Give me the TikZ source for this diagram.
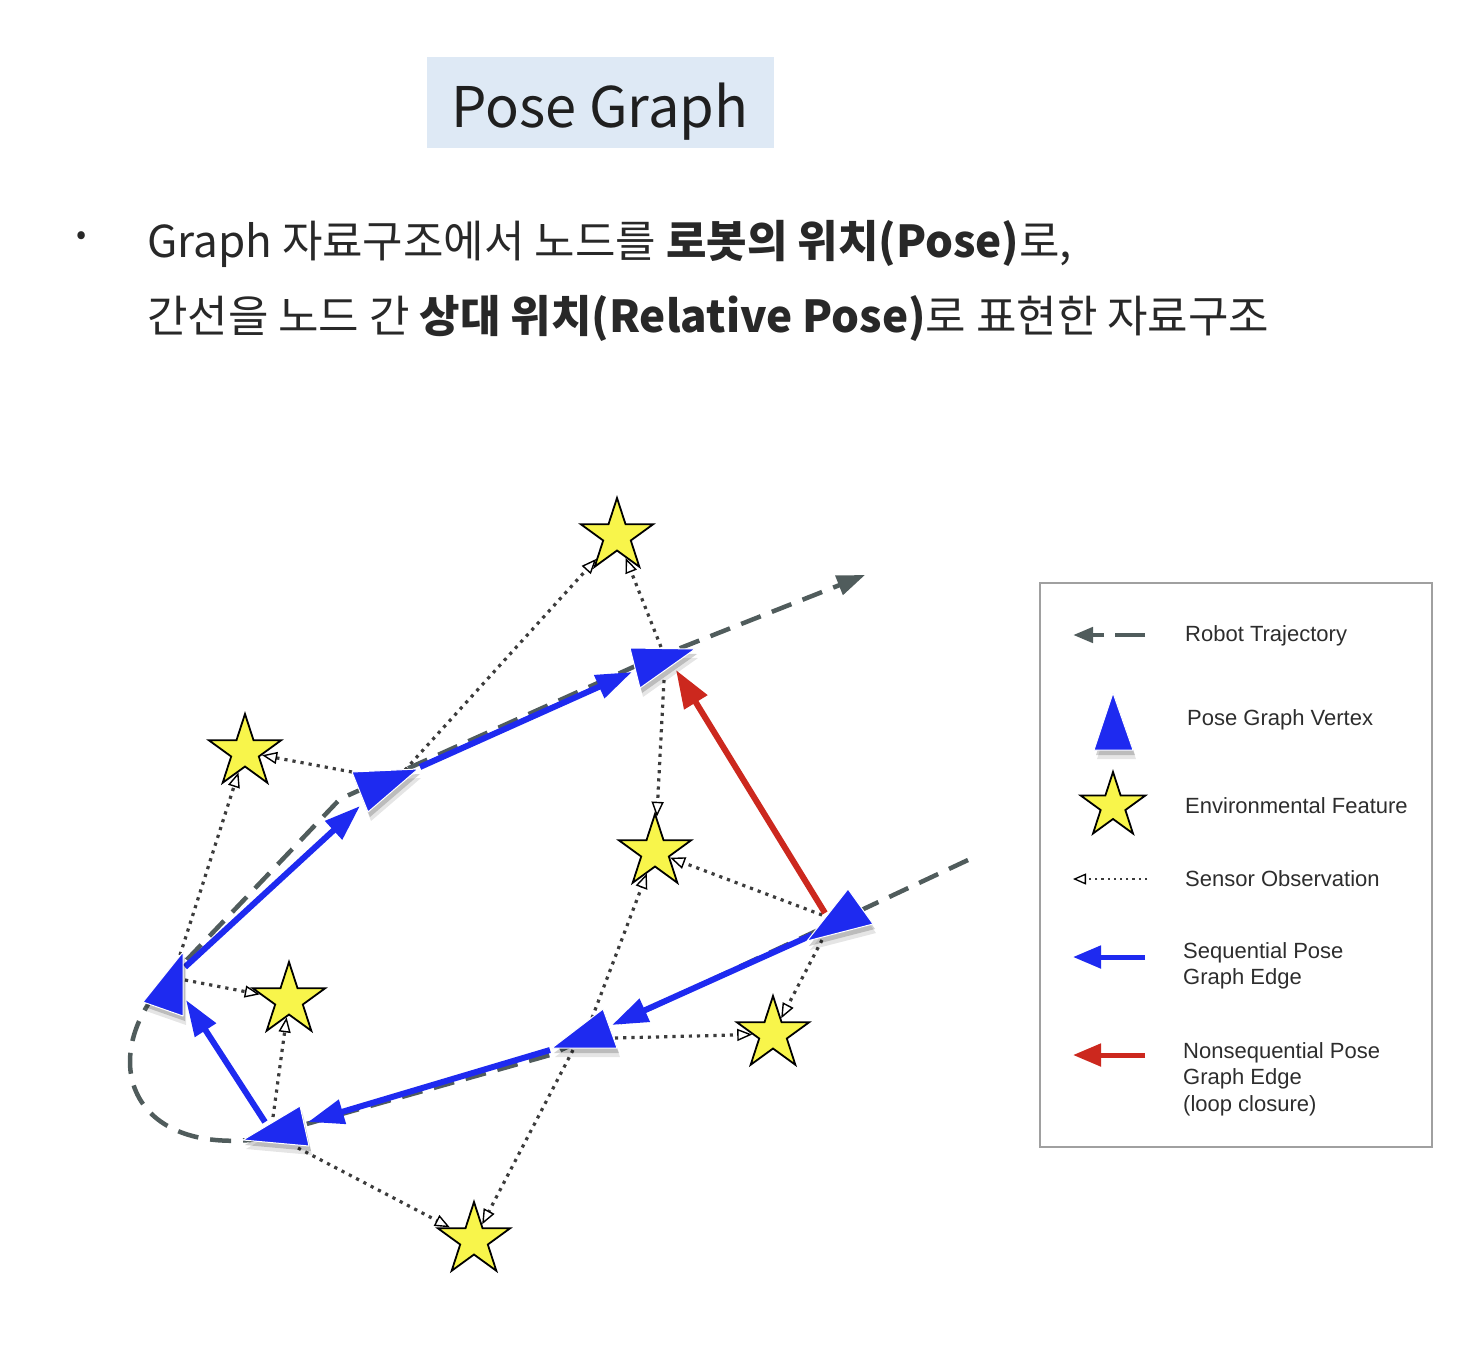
\documentclass[tikz,border=0pt]{standalone}
\usepackage{fontspec}
\setmainfont{Noto Sans CJK KR}
\newfontfamily\legfont{Liberation Sans}
\usetikzlibrary{shapes.geometric,arrows.meta}
\pgfdeclarelayer{bg}
\pgfsetlayers{bg,main}
\definecolor{vblue}{RGB}{30,42,240}
\definecolor{lcred}{RGB}{204,40,30}
\definecolor{trajgray}{RGB}{80,92,92}
\definecolor{dotgray}{RGB}{60,60,60}
\definecolor{staryellow}{RGB}{248,245,75}
\definecolor{titlebg}{RGB}{222,233,245}
\definecolor{legborder}{RGB}{160,160,160}
\definecolor{legtextcol}{RGB}{45,45,45}
\definecolor{bodytextcol}{RGB}{40,40,40}
\newcommand\posevertex[1]{%
  \fill[black,opacity=.10] ([shift={(3,9)}]#1a) -- ([shift={(3,9)}]#1b) -- ([shift={(3,9)}]#1c) -- cycle;
  \fill[black,opacity=.18] ([shift={(2,5)}]#1a) -- ([shift={(2,5)}]#1b) -- ([shift={(2,5)}]#1c) -- cycle;
  \filldraw[vertexstyle] (#1a) -- (#1b) -- (#1c) -- cycle;}
\begin{document}
\begin{tikzpicture}[x=1pt,y=-1pt,
  titlebox/.style={fill=titlebg, minimum width=347pt, minimum height=91pt, inner sep=0pt,
    font=\fontsize{56}{68}\selectfont, text=black!88},
  bodytext/.style={font=\fontsize{44}{52}\selectfont, text=bodytextcol, inner sep=0pt, anchor=base west},
  traj/.style={draw=trajgray, line width=4.5pt, dash pattern=on 21pt off 12pt},
  obs/.style={draw=dotgray, line width=3.2pt, dash pattern=on 3.2pt off 5pt,
    -{Triangle[length=15pt,width=12pt,fill=white,color=black,line width=1.4pt]}},
  seq/.style={draw=vblue, line width=6pt, -{Triangle[length=36pt,width=24pt]}},
  nonseq/.style={draw=lcred, line width=6pt, -{Triangle[length=38pt,width=26pt]}},
  feature/.style={star, star points=5, star point ratio=2.618, minimum size=76pt, inner sep=0pt,
    draw=black, line width=1.8pt, fill=staryellow},
  vertexstyle/.style={fill=vblue, draw=white, line width=1pt, line join=round},
  legtext/.style={font=\legfont\fontsize{22}{26.5}\selectfont, text=legtextcol, anchor=west,
    inner sep=0pt, align=left}
]
\useasboundingbox (0,0) rectangle (1474,1352);

% ---------- heading ----------
\fill[titlebg] (427,57) rectangle (774,148);
\node[font=\fontsize{56}{68}\selectfont, text=black!88, inner sep=0pt, anchor=base] (title) at (600,127) {Pose Graph};
\node[font=\fontsize{30}{30}\selectfont, text=bodytextcol, inner sep=0pt] (bullet) at (82,238) {•};
\node[bodytext] (line1) at (147,257) {Graph 자료구조에서 노드를 \textbf{로봇의 위치(Pose)}로,};
\node[bodytext] (line2) at (147,332) {간선을 노드 간 \textbf{상대 위치(Relative Pose)}로 표현한 자료구조};

% ---------- vertices (triangle corners) ----------
\coordinate (v1a) at (630,648); \coordinate (v1b) at (695,649); \coordinate (v1c) at (640,688);
\coordinate (v2a) at (352,772); \coordinate (v2b) at (418,769); \coordinate (v2c) at (368,812);
\coordinate (v3a) at (143,1002); \coordinate (v3b) at (183,952); \coordinate (v3c) at (183,1016);
\coordinate (v4a) at (243,1140); \coordinate (v4b) at (300,1106); \coordinate (v4c) at (309,1146);
\coordinate (v5a) at (807,941); \coordinate (v5b) at (848,889); \coordinate (v5c) at (873,924);
\coordinate (v6a) at (552,1048); \coordinate (v6b) at (603,1009); \coordinate (v6c) at (617,1048);
\coordinate (lgva) at (1113,693); \coordinate (lgvb) at (1133,750); \coordinate (lgvc) at (1094,750);

% connector ends at the vertices
\coordinate (b1s) at (812,935); \coordinate (b1e) at (612,1025);
\coordinate (b2s) at (550,1050); \coordinate (b2e) at (308,1122);
\coordinate (b3s) at (265,1122); \coordinate (b3e) at (186,1000);
\coordinate (b4s) at (185,967); \coordinate (b4e) at (360,806);
\coordinate (b5s) at (420,767); \coordinate (b5e) at (632,672);
\coordinate (r1s) at (825,913); \coordinate (r1e) at (676,670);

\coordinate (v2o1) at (405,770);
\coordinate (v1o2) at (661,647);
\coordinate (v1o3) at (664,680);
\coordinate (v5o4) at (822,915);
\coordinate (v6o5) at (592,1018);
\coordinate (v6o6) at (573,1050);
\coordinate (v4o7) at (298,1148);
\coordinate (v4o8) at (273,1117);
\coordinate (v3o9) at (185,980);
\coordinate (v3o10) at (180,955);
\coordinate (v2o11) at (352,772);
\coordinate (v5o12) at (822,940);
\coordinate (v6o13) at (615,1038);

% trajectory points
\coordinate (t0) at (968,860);
\coordinate (t1) at (855,913);
\coordinate (t3) at (550,1055);
\coordinate (t4) at (250,1140);
\coordinate (t5) at (160,988);
\coordinate (t6) at (340,799);
\coordinate (t7) at (640,664);
\coordinate (tend) at (865,575);

% ---------- features ----------
\node[feature] (s1) at (617,536) {};
\node[feature] (s2) at (245,752) {};
\node[feature] (s3) at (655,852) {};
\node[feature] (s4) at (289,1000) {};
\node[feature] (s5) at (773,1034) {};
\node[feature] (s6) at (474,1240) {};

% ---------- connectors ----------
\begin{pgfonlayer}{bg}
\draw[traj, -{Triangle[length=28pt,width=20pt]}] (t0) -- (t1) -- (t3) -- (t4)
   .. controls (130,1150) and (100,1060) .. (t5) -- (t6) -- (t7) -- (tend);
\draw[obs] (v2o1) -- (s1);
\draw[obs] (v1o2) -- (s1);
\draw[obs] (v1o3) -- (s3);
\draw[obs] (v5o4) -- (s3);
\draw[obs] (v6o5) -- (s3);
\draw[obs] (v6o6) -- (s6);
\draw[obs] (v4o7) -- (s6);
\draw[obs] (v4o8) -- (s4);
\draw[obs] (v3o9) -- (s4);
\draw[obs] (v3o10) -- (s2);
\draw[obs] (v2o11) -- (s2);
\draw[obs] (v5o12) -- (s5);
\draw[obs] (v6o13) -- (s5);
\draw[seq] (b1s) -- (b1e);
\draw[seq] (b2s) -- (b2e);
\draw[seq] (b3s) -- (b3e);
\draw[seq] (b4s) -- (b4e);
\draw[seq] (b5s) -- (b5e);
\draw[nonseq] (r1s) -- (r1e);
\end{pgfonlayer}

% ---------- pose vertices ----------
\posevertex{v1}
\posevertex{v2}
\posevertex{v3}
\posevertex{v4}
\posevertex{v5}
\posevertex{v6}

% ---------- legend ----------
\draw[legborder, line width=1.5pt] (1040,583) rectangle (1432,1147);
\coordinate (lg1a) at (1073,635); \coordinate (lg1b) at (1145,635);
\coordinate (lg4a) at (1073,879); \coordinate (lg4b) at (1147,879);
\coordinate (lg5a) at (1073,957); \coordinate (lg5b) at (1145,957);
\coordinate (lg6a) at (1073,1055); \coordinate (lg6b) at (1145,1055);
\draw[traj, dash pattern=on 30pt off 11pt, -{Triangle[length=20pt,width=15pt]}] (lg1b) -- (lg1a);
\posevertex{lgv}
\node[feature, minimum size=68pt] (lgstar) at (1113,806) {};
\draw[obs, line width=2.2pt, dash pattern=on 2.2pt off 4pt,
  -{Triangle[length=13pt,width=11pt,fill=white,color=black,line width=1.3pt]}] (lg4b) -- (lg4a);
\draw[seq, line width=5pt, -{Triangle[length=28pt,width=22pt]}] (lg5b) -- (lg5a);
\draw[nonseq, line width=5pt, -{Triangle[length=28pt,width=22pt]}] (lg6b) -- (lg6a);

\node[legtext] (lt1) at (1185,636) {Robot Trajectory};
\node[legtext] (lt2) at (1187,720) {Pose Graph Vertex};
\node[legtext] (lt3) at (1185,806) {Environmental Feature};
\node[legtext] (lt4) at (1185,879) {Sensor Observation};
\node[legtext] (lt5) at (1183,966) {Sequential Pose\\Graph Edge};
\node[legtext] (lt6) at (1183,1079) {Nonsequential Pose\\Graph Edge\\(loop closure)};
\end{tikzpicture}
\end{document}
